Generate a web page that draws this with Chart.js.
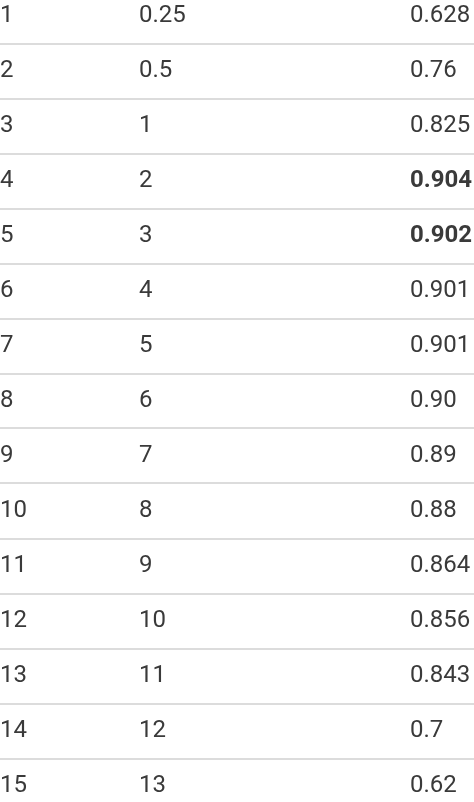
<!DOCTYPE html>
<html><head><meta charset="utf-8">
<script src="https://cdn.jsdelivr.net/npm/chart.js@4"></script>
<style>html,body{margin:0;padding:0;background:#fff;overflow:hidden}#w{width:474px;height:802px}</style>
</head><body><div id="w"><canvas id="c"></canvas></div>
<script>
const rowIds = ["1","2","3","4","5","6","7","8","9","10","11","12","13","14","15"];
const params = ["0.25","0.5","1","2","3","4","5","6","7","8","9","10","11","12","13"];
const scores = ["0.628","0.76","0.825","0.904","0.902","0.901","0.901","0.90","0.89","0.88","0.864","0.856","0.843","0.7","0.62"];
const boldRows = [3,4];

const tablePlugin = {
  id:'table',
  afterDraw(chart){
    const ctx = chart.ctx, xs = chart.scales.x, ys = chart.scales.y;
    ctx.save();
    ctx.strokeStyle = '#dcdcdc'; ctx.lineWidth = 2;
    for(let i=0;i<rowIds.length-1;i++){
      const yy = Math.round(ys.getPixelForValue(i+0.5));
      ctx.beginPath(); ctx.moveTo(xs.getPixelForValue(0),yy); ctx.lineTo(xs.getPixelForValue(474),yy); ctx.stroke();
    }
    ctx.textBaseline='middle'; ctx.textAlign='left'; ctx.fillStyle='#3a3a3a';
    rowIds.forEach((r,i)=>{
      const yy = ys.getPixelForValue(i);
      ctx.font = '400 24px Roboto';
      ctx.fillText(r, xs.getPixelForValue(0), yy);
      ctx.fillText(params[i], xs.getPixelForValue(139), yy);
      ctx.font = (boldRows.includes(i)?'700':'400')+' 24px Roboto';
      ctx.fillText(scores[i], xs.getPixelForValue(410), yy);
    });
    ctx.restore();
  }
};

new Chart(document.getElementById('c'),{
  type:'scatter',
  data:{datasets:[{data:rowIds.map((r,i)=>({x:0,y:i})),pointRadius:0}]},
  options:{
    responsive:true,maintainAspectRatio:false,animation:false,
    layout:{padding:0},
    plugins:{legend:{display:false},tooltip:{enabled:false}},
    scales:{
      x:{type:'linear',min:0,max:474,display:false},
      y:{type:'linear',min:-16/55,max:(802-16)/55,reverse:true,display:false}
    }
  },
  plugins:[tablePlugin]
});
</script></body></html>
